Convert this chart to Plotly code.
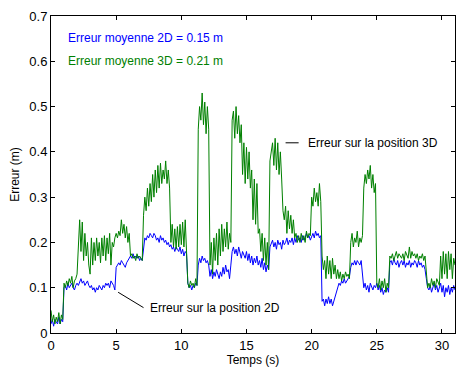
import numpy as np
import plotly.graph_objects as go

dt = 0.1
err_2d = [
    0.02,0.03,0.015,0.03,0.025,0.02,0.035,0.02,0.03,0.025,
    0.10,0.105,0.095,0.11,0.10,0.105,0.11,0.10,0.095,0.105,
    0.11,0.105,0.115,0.12,0.11,0.115,0.105,0.11,0.115,0.105,
    0.10,0.105,0.095,0.10,0.09,0.10,0.095,0.105,0.10,0.095,
    0.105,0.10,0.11,0.105,0.11,0.10,0.115,0.11,0.105,0.095,
    0.145,0.15,0.155,0.15,0.16,0.155,0.15,0.145,0.155,0.16,
    0.165,0.17,0.165,0.175,0.165,0.17,0.165,0.17,0.16,0.165,
    0.16,0.195,0.21,0.205,0.215,0.21,0.22,0.215,0.21,0.22,
    0.215,0.205,0.21,0.20,0.215,0.205,0.21,0.20,0.205,0.195,
    0.20,0.19,0.195,0.185,0.19,0.18,0.19,0.185,0.18,0.19,
    0.175,0.185,0.17,0.18,0.175,0.11,0.10,0.105,0.095,0.105,
    0.10,0.11,0.105,0.15,0.165,0.155,0.17,0.16,0.165,0.155,
    0.16,0.15,0.125,0.14,0.12,0.135,0.125,0.14,0.13,0.12,
    0.135,0.125,0.145,0.13,0.15,0.135,0.14,0.12,0.15,0.18,
    0.19,0.175,0.185,0.17,0.19,0.18,0.165,0.18,0.17,0.165,
    0.18,0.16,0.175,0.155,0.17,0.15,0.165,0.155,0.17,0.15,
    0.16,0.145,0.165,0.14,0.155,0.135,0.15,0.14,0.19,0.20,
    0.205,0.19,0.20,0.185,0.205,0.195,0.20,0.185,0.205,0.195,
    0.20,0.21,0.195,0.205,0.20,0.21,0.195,0.21,0.20,0.215,
    0.205,0.21,0.20,0.215,0.205,0.21,0.22,0.21,0.215,0.205,
    0.215,0.22,0.21,0.225,0.215,0.22,0.21,0.215,0.07,0.075,
    0.06,0.075,0.065,0.08,0.065,0.075,0.06,0.07,0.085,0.095,
    0.10,0.11,0.105,0.115,0.11,0.12,0.11,0.115,0.12,0.125,
    0.145,0.155,0.15,0.16,0.15,0.16,0.155,0.15,0.16,0.12,
    0.10,0.11,0.095,0.105,0.09,0.11,0.10,0.095,0.105,0.10,
    0.11,0.095,0.105,0.09,0.10,0.085,0.095,0.09,0.10,0.09,
    0.155,0.16,0.15,0.165,0.155,0.15,0.16,0.145,0.155,0.16,
    0.15,0.16,0.145,0.155,0.15,0.16,0.145,0.155,0.15,0.16,
    0.155,0.145,0.16,0.15,0.155,0.145,0.15,0.14,0.12,0.10,
    0.095,0.105,0.09,0.10,0.11,0.095,0.105,0.09,0.10,0.11,
    0.09,0.105,0.08,0.10,0.09,0.105,0.085,0.10,0.09,0.105,0.095,
]
err_3d = [
    0.05,0.025,0.04,0.02,0.035,0.025,0.045,0.02,0.04,0.03,
    0.11,0.10,0.115,0.105,0.12,0.11,0.125,0.10,0.115,0.12,
    0.13,0.20,0.25,0.18,0.245,0.16,0.22,0.17,0.20,0.15,
    0.13,0.21,0.15,0.20,0.16,0.21,0.17,0.20,0.155,0.21,
    0.17,0.215,0.16,0.21,0.175,0.22,0.15,0.20,0.19,0.21,
    0.22,0.21,0.225,0.215,0.25,0.22,0.24,0.21,0.235,0.20,
    0.22,0.17,0.175,0.165,0.17,0.16,0.175,0.165,0.17,0.165,
    0.16,0.26,0.30,0.27,0.32,0.28,0.33,0.29,0.35,0.30,
    0.36,0.31,0.37,0.32,0.375,0.33,0.36,0.34,0.38,0.33,
    0.36,0.32,0.20,0.24,0.19,0.23,0.185,0.235,0.19,0.24,
    0.195,0.245,0.19,0.25,0.18,0.11,0.10,0.115,0.105,0.11,
    0.10,0.12,0.105,0.45,0.50,0.47,0.53,0.46,0.51,0.44,
    0.50,0.45,0.15,0.20,0.13,0.21,0.16,0.22,0.15,0.23,
    0.17,0.24,0.18,0.23,0.19,0.245,0.185,0.22,0.20,0.47,
    0.49,0.43,0.50,0.44,0.48,0.42,0.46,0.35,0.42,0.33,
    0.41,0.34,0.40,0.32,0.36,0.25,0.34,0.24,0.33,0.22,
    0.23,0.18,0.22,0.16,0.21,0.15,0.20,0.14,0.38,0.40,
    0.42,0.37,0.43,0.36,0.42,0.35,0.40,0.34,0.27,0.25,
    0.28,0.22,0.27,0.23,0.26,0.22,0.25,0.21,0.22,0.20,
    0.215,0.20,0.22,0.205,0.215,0.20,0.225,0.21,0.22,0.215,
    0.30,0.28,0.32,0.29,0.31,0.28,0.33,0.29,0.17,0.14,
    0.16,0.12,0.17,0.13,0.16,0.12,0.165,0.13,0.15,0.12,
    0.14,0.12,0.135,0.115,0.13,0.12,0.135,0.125,0.13,0.12,
    0.20,0.22,0.19,0.21,0.20,0.225,0.19,0.21,0.20,0.215,
    0.32,0.35,0.33,0.36,0.34,0.37,0.32,0.35,0.31,0.33,
    0.11,0.10,0.12,0.095,0.115,0.10,0.12,0.09,0.11,0.10,
    0.17,0.165,0.175,0.16,0.17,0.18,0.165,0.175,0.17,0.165,
    0.175,0.16,0.18,0.17,0.165,0.19,0.165,0.18,0.17,0.175,
    0.165,0.175,0.16,0.17,0.165,0.175,0.16,0.17,0.13,0.10,
    0.11,0.10,0.12,0.105,0.115,0.10,0.12,0.11,0.105,0.17,
    0.12,0.18,0.13,0.175,0.12,0.18,0.14,0.175,0.12,0.165,0.15,
]
t = np.round(np.arange(len(err_2d)) * dt, 2)
x_ticks = [0, 5, 10, 15, 20, 25, 30]
y_ticks = [0, 0.1, 0.2, 0.3, 0.4, 0.5, 0.6, 0.7]
y_tick_text = ["0", "0.1", "0.2", "0.3", "0.4", "0.5", "0.6", "0.7"]

BLUE = "#0000ff"
GREEN = "#008000"
FONT = "Liberation Sans, Arial, sans-serif"

fig = go.Figure()
fig.add_trace(go.Scatter(x=t, y=err_2d, mode="lines", line=dict(color=BLUE, width=1), showlegend=False))
fig.add_trace(go.Scatter(x=t, y=err_3d, mode="lines", line=dict(color=GREEN, width=1), showlegend=False))

fig.add_annotation(x=1.15, y=0.651, xref="x", yref="y", text="Erreur moyenne 2D = 0.15 m",
                   showarrow=False, xanchor="left", yanchor="middle", font=dict(color=BLUE, size=12, family=FONT))
fig.add_annotation(x=1.15, y=0.60, xref="x", yref="y", text="Erreur moyenne 3D = 0.21 m",
                   showarrow=False, xanchor="left", yanchor="middle", font=dict(color=GREEN, size=12, family=FONT))
fig.add_annotation(x=19.6, y=0.42, xref="x", yref="y", text="Erreur sur la position 3D",
                   showarrow=False, xanchor="left", yanchor="middle", font=dict(color="#000000", size=12, family=FONT))
fig.add_annotation(x=7.45, y=0.055, xref="x", yref="y", text="Erreur sur la position 2D",
                   showarrow=False, xanchor="left", yanchor="middle", font=dict(color="#000000", size=12, family=FONT))
fig.add_shape(type="line", xref="x", yref="y", x0=18.0, y0=0.42, x1=19.0, y1=0.42,
              line=dict(color="#000000", width=1))
fig.add_shape(type="line", xref="x", yref="y", x0=5.15, y0=0.09, x1=7.1, y1=0.056,
              line=dict(color="#000000", width=1))

axis_common = dict(showgrid=False, zeroline=False, showline=True, linecolor="#000000", linewidth=1,
                   mirror="ticks", ticks="inside", ticklen=4, tickcolor="#000000", automargin=False,
                   tickfont=dict(family=FONT, size=13, color="#000000"))
fig.update_xaxes(range=[0, 31], tickvals=x_ticks, title=dict(text="Temps (s)", standoff=3,
                 font=dict(family=FONT, size=12, color="#000000")), **axis_common)
fig.update_yaxes(range=[0, 0.7], tickvals=y_ticks, ticktext=y_tick_text,
                 title=dict(text="Erreur (m)", font=dict(family=FONT, size=12, color="#000000")),
                 **axis_common)
fig.update_layout(width=466, height=362, margin=dict(l=43, r=19, t=8, b=37, autoexpand=False),
                  paper_bgcolor="white", plot_bgcolor="white", showlegend=False)
fig.write_html("out.html")
